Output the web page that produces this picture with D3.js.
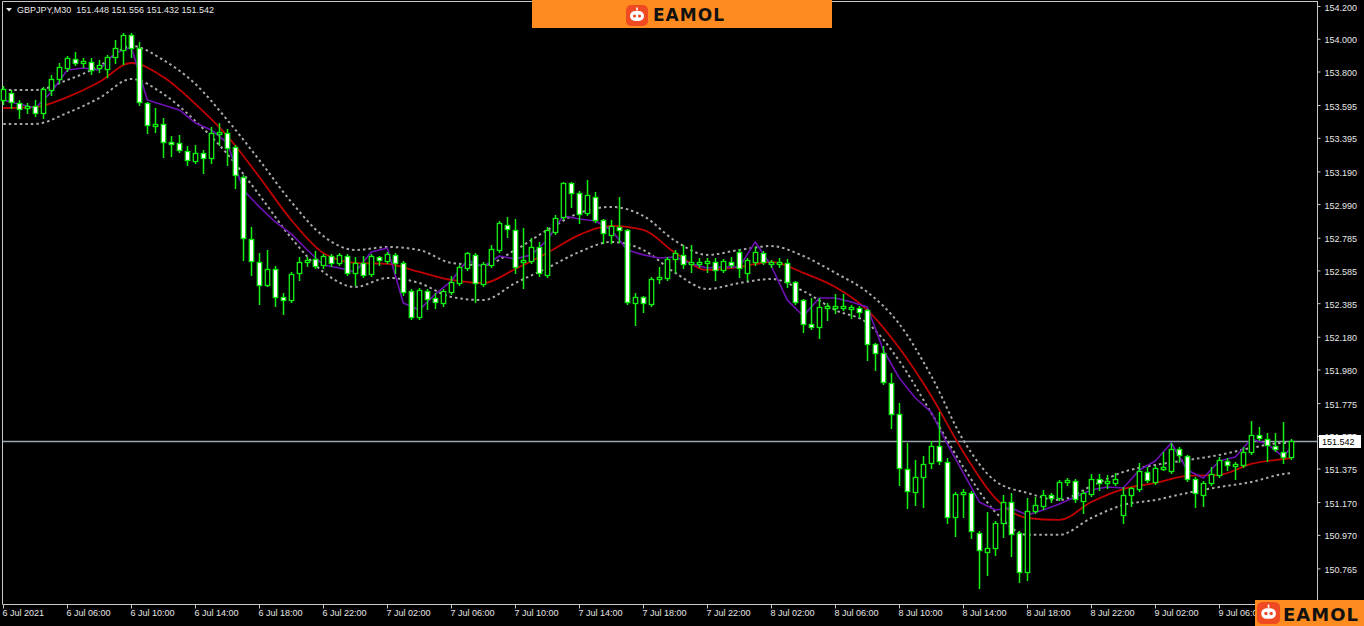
<!DOCTYPE html>
<html><head><meta charset="utf-8">
<script src="https://cdn.jsdelivr.net/npm/d3@7"></script>
<style>html,body{margin:0;padding:0;background:#000;overflow:hidden}svg{display:block}</style>
</head><body><svg id="chart" width="1364" height="626"></svg>
<script>
// ---------- data ----------
const symbol = "GBPJPY,M30";
const lastQuote = [151.448, 151.556, 151.432, 151.542];

// [open, high, low, close] for every 30-minute bar
const candleOHLC = [
[153.626,153.711,153.602,153.693],[153.669,153.687,153.577,153.614],[153.608,153.626,153.516,153.571],[153.577,153.608,153.547,153.589],
[153.589,153.626,153.528,153.547],[153.547,153.705,153.516,153.693],[153.687,153.778,153.656,153.754],[153.754,153.852,153.730,153.827],
[153.821,153.894,153.803,153.882],[153.876,153.919,153.839,153.852],[153.852,153.882,153.827,153.864],[153.858,153.882,153.785,153.809],
[153.821,153.870,153.797,153.839],[153.815,153.900,153.766,153.888],[153.888,153.992,153.852,153.943],[153.931,154.035,153.846,154.022],
[154.022,154.035,153.888,153.943],[153.943,153.980,153.596,153.614],[153.608,153.614,153.425,153.473],[153.467,153.577,153.431,153.480],
[153.480,153.516,153.278,153.370],[153.370,153.406,153.284,153.357],[153.364,153.412,153.308,153.321],[153.315,153.345,153.229,153.259],
[153.253,153.351,153.241,153.302],[153.302,153.321,153.180,153.272],[153.272,153.461,153.241,153.425],[153.419,153.486,153.351,153.431],
[153.425,153.449,153.229,153.333],[153.339,153.351,153.088,153.168],[153.156,153.168,152.649,152.783],[152.777,152.850,152.557,152.643],
[152.637,152.692,152.380,152.496],[152.496,152.710,152.490,152.594],[152.594,152.612,152.368,152.423],[152.423,152.447,152.319,152.404],
[152.404,152.576,152.392,152.563],[152.570,152.667,152.527,152.637],[152.637,152.667,152.612,152.649],[152.655,152.704,152.600,152.612],
[152.618,152.686,152.600,152.673],[152.673,152.686,152.612,152.631],[152.631,152.692,152.618,152.680],[152.673,152.686,152.557,152.570],
[152.570,152.667,152.496,152.631],[152.631,152.673,152.545,152.557],[152.563,152.686,152.551,152.673],[152.667,152.673,152.618,152.649],
[152.643,152.698,152.631,152.686],[152.680,152.692,152.570,152.631],[152.631,152.643,152.435,152.453],[152.459,152.471,152.288,152.300],
[152.300,152.478,152.288,152.466],[152.459,152.471,152.349,152.410],[152.417,152.447,152.355,152.392],[152.386,152.471,152.368,152.459],
[152.453,152.551,152.441,152.514],[152.508,152.618,152.496,152.606],[152.600,152.698,152.588,152.692],[152.680,152.692,152.392,152.508],
[152.502,152.637,152.490,152.625],[152.618,152.741,152.606,152.716],[152.710,152.887,152.698,152.875],[152.863,152.912,152.789,152.838],
[152.832,152.899,152.570,152.606],[152.637,152.844,152.478,152.649],[152.643,152.783,152.631,152.728],[152.728,152.759,152.551,152.570],
[152.557,152.850,152.545,152.832],[152.820,152.924,152.808,152.905],[152.912,153.125,152.899,153.119],[153.119,153.125,152.973,153.058],
[153.058,153.070,152.875,152.930],[152.936,153.137,152.924,153.046],[153.033,153.064,152.881,152.893],[152.893,152.899,152.753,152.814],
[152.802,152.893,152.753,152.857],[152.850,153.033,152.759,152.832],[152.832,152.838,152.380,152.392],[152.386,152.447,152.252,152.423],
[152.423,152.429,152.331,152.386],[152.380,152.545,152.368,152.533],[152.533,152.606,152.508,152.545],[152.539,152.667,152.527,152.655],
[152.655,152.710,152.576,152.692],[152.680,152.741,152.600,152.625],[152.625,152.741,152.576,152.637],[152.625,152.661,152.606,152.637],
[152.631,152.661,152.576,152.643],[152.637,152.661,152.527,152.588],[152.588,152.655,152.576,152.643],[152.637,152.667,152.606,152.618],
[152.698,152.716,152.545,152.600],[152.570,152.661,152.527,152.649],[152.637,152.728,152.618,152.698],[152.692,152.704,152.625,152.637],
[152.625,152.649,152.606,152.637],[152.625,152.661,152.606,152.637],[152.631,152.655,152.484,152.514],[152.514,152.520,152.380,152.392],
[152.404,152.410,152.209,152.258],[152.258,152.417,152.227,152.240],[152.240,152.417,152.172,152.362],[152.355,152.386,152.282,152.368],
[152.355,152.441,152.325,152.368],[152.355,152.441,152.343,152.368],[152.349,152.374,152.294,152.362],[152.355,152.368,152.300,152.331],
[152.343,152.349,152.038,152.136],[152.136,152.142,151.977,152.081],[152.081,152.124,151.891,151.903],[151.897,151.959,151.623,151.708],
[151.708,151.775,151.275,151.378],[151.372,151.531,151.134,151.238],[151.232,151.427,151.152,151.323],[151.323,151.452,151.140,151.403],
[151.409,151.543,151.378,151.513],[151.513,151.720,151.403,151.421],[151.415,151.439,151.043,151.079],[151.079,151.232,150.963,151.220],
[151.220,151.250,151.079,151.232],[151.226,151.238,150.951,150.994],[150.982,150.994,150.646,150.878],[150.865,151.110,150.725,150.890],
[150.890,151.055,150.847,151.043],[151.043,151.214,150.957,151.171],[151.171,151.226,150.841,150.976],[150.982,150.994,150.682,150.743],
[150.743,151.195,150.694,151.116],[151.116,151.201,151.104,151.153],[151.147,151.244,151.128,151.214],[151.214,151.226,151.171,151.195],
[151.195,151.305,151.183,151.293],[151.293,151.317,151.275,151.305],[151.299,151.311,151.171,151.189],[151.177,151.238,151.104,151.226],
[151.220,151.342,151.208,151.311],[151.311,151.342,151.244,151.287],[151.287,151.336,151.256,151.299],[151.287,151.348,151.275,151.311],
[151.091,151.262,151.043,151.214],[151.214,151.262,151.146,151.256],[151.250,151.409,151.238,151.360],[151.354,151.385,151.293,151.305],
[151.293,151.391,151.281,151.378],[151.372,151.476,151.366,151.385],[151.360,151.531,151.348,151.494],[151.494,151.507,151.415,151.458],
[151.452,151.458,151.299,151.311],[151.311,151.323,151.140,151.226],[151.214,151.299,151.146,151.287],[151.287,151.385,151.275,151.342],
[151.336,151.446,151.323,151.427],[151.421,151.439,151.366,151.397],[151.391,151.415,151.311,151.403],[151.397,151.507,151.385,151.476],
[151.476,151.665,151.464,151.580],[151.580,151.629,151.550,151.562],[151.555,151.592,151.421,151.519],[151.513,151.592,151.482,151.494],
[151.476,151.659,151.409,151.446],[151.448,151.556,151.432,151.542]
];

// slow moving average (red) and its envelope, read every 4 bars (plus last bar)
const slowIdx = [0,4,8,12,16,20,24,28,32,36,40,44,48,52,56,60,64,68,72,76,80,84,88,92,96,100,104,108,112,116,120,124,128,132,136,140,144,148,152,156,160,161];
const maRed = [153.577,153.583,153.644,153.736,153.852,153.766,153.602,153.406,153.156,152.893,152.692,152.631,152.625,152.576,152.527,152.508,152.594,152.692,152.802,152.857,152.832,152.692,152.588,152.606,152.637,152.570,152.484,152.343,152.111,151.818,151.476,151.195,151.073,151.061,151.171,151.250,151.287,151.330,151.336,151.403,151.433,151.439];
const envUpper = [153.687,153.687,153.748,153.833,153.956,153.870,153.724,153.504,153.259,153.003,152.795,152.710,152.728,152.710,152.631,152.618,152.710,152.832,152.936,152.973,152.918,152.765,152.680,152.710,152.734,152.673,152.570,152.453,152.258,151.940,151.549,151.299,151.226,151.183,151.268,151.354,151.397,151.427,151.458,151.501,151.531,151.531];
const envLower = [153.480,153.480,153.547,153.638,153.754,153.663,153.498,153.296,153.046,152.783,152.576,152.484,152.539,152.508,152.423,152.404,152.508,152.600,152.698,152.759,152.710,152.570,152.472,152.508,152.533,152.459,152.343,152.264,152.032,151.714,151.385,151.110,150.970,150.970,151.073,151.153,151.183,151.226,151.262,151.293,151.342,151.348];

// fast moving average (purple), read every 2 bars (plus last bar)
const fastIdx = [0,2,4,6,8,10,12,14,16,18,20,22,24,26,28,30,32,34,36,38,40,42,44,46,48,50,52,54,56,58,60,62,64,66,68,70,72,74,76,78,80,82,84,86,88,90,92,94,96,98,100,102,104,106,108,110,112,114,116,118,120,122,124,126,128,130,132,134,136,138,140,142,144,146,148,150,152,154,156,158,160,161];
const maPurple = [153.626,153.602,153.577,153.675,153.809,153.821,153.809,153.913,153.950,153.626,153.596,153.565,153.486,153.443,153.364,153.076,152.973,152.881,152.808,152.710,152.618,152.600,152.576,152.698,152.722,152.386,152.343,152.441,152.520,152.649,152.606,152.673,152.655,152.680,152.771,152.918,152.899,152.887,152.832,152.710,152.680,152.661,152.667,152.625,152.600,152.606,152.606,152.759,152.612,152.404,152.307,152.417,152.417,152.392,152.362,152.099,151.928,151.806,151.720,151.525,151.348,151.171,151.122,151.134,151.091,151.122,151.159,151.201,151.244,151.262,151.256,151.366,151.421,151.531,151.366,151.317,151.421,151.446,151.556,151.525,151.446,151.507];

const priceTicks = [154.200,154.000,153.800,153.595,153.395,153.190,152.990,152.785,152.585,152.385,152.180,151.980,151.775,151.575,151.375,151.170,150.970,150.765,150.560];
const timeLabels = ["6 Jul 2021","6 Jul 06:00","6 Jul 10:00","6 Jul 14:00","6 Jul 18:00","6 Jul 22:00","7 Jul 02:00","7 Jul 06:00","7 Jul 10:00","7 Jul 14:00","7 Jul 18:00","7 Jul 22:00","8 Jul 02:00","8 Jul 06:00","8 Jul 10:00","8 Jul 14:00","8 Jul 18:00","8 Jul 22:00","9 Jul 02:00","9 Jul 06:00"];
const barsPerLabel = 8;

// ---------- drawing ----------
const svg = d3.select("#chart");
const W = 1364, H = 626;
const plotRight = 1317.5, plotBottom = 604.5;
const green = "#12f012";
const font = "'Liberation Sans', Arial, sans-serif";

const x = d3.scaleLinear().domain([0, candleOHLC.length - 1]).range([3.3, 3.3 + 8 * (candleOHLC.length - 1)]);
const y = d3.scaleLinear().domain([150.56, 154.2]).range([602, 6]);

svg.append("rect").attr("width", W).attr("height", H).attr("fill", "#000");

// frame
svg.append("path")
  .attr("d", `M2.5,${plotBottom}V1.5H${plotRight}V${plotBottom}H2.5`)
  .attr("fill", "none").attr("stroke", "#c8c8c8").attr("stroke-width", 1);

// current price line
const yLast = Math.round(y(lastQuote[3])) + 0.5;
svg.append("line").attr("x1", 3).attr("x2", plotRight).attr("y1", yLast).attr("y2", yLast)
  .attr("stroke", "#98a4b0").attr("stroke-width", 1.3);

// indicator lines
const lineSmooth = d3.line().x(d => x(d[0])).y(d => y(d[1])).curve(d3.curveMonotoneX);
const lineFast = d3.line().x(d => x(d[0])).y(d => y(d[1])).curve(d3.curveLinear);
const zip = (idx, vals) => idx.map((v, k) => [v, vals[k]]);

svg.append("path").attr("d", lineSmooth(zip(slowIdx, envUpper)))
  .attr("fill", "none").attr("stroke", "#a9a9a9").attr("stroke-width", 2).attr("stroke-dasharray", "2.5,3");
svg.append("path").attr("d", lineSmooth(zip(slowIdx, envLower)))
  .attr("fill", "none").attr("stroke", "#a9a9a9").attr("stroke-width", 2).attr("stroke-dasharray", "2.5,3");
svg.append("path").attr("d", lineSmooth(zip(slowIdx, maRed)))
  .attr("fill", "none").attr("stroke", "#c00000").attr("stroke-width", 1.8);
svg.append("path").attr("d", lineFast(zip(fastIdx, maPurple)))
  .attr("fill", "none").attr("stroke", "#6e10b4").attr("stroke-width", 1.6).attr("stroke-linejoin", "round");

// candles
const cg = svg.append("g");
candleOHLC.forEach((d, i) => {
  const [o, h, l, c] = d;
  const cx = Math.round(x(i)) + 0.5;
  cg.append("line").attr("x1", cx).attr("x2", cx)
    .attr("y1", Math.round(y(h))).attr("y2", Math.round(y(l)) + 1)
    .attr("stroke", green).attr("stroke-width", 1.5);
  const top = Math.round(y(Math.max(o, c)));
  const bot = Math.round(y(Math.min(o, c)));
  const bull = c >= o;
  if (bot - top < 1) {
    cg.append("line").attr("x1", cx - 2.5).attr("x2", cx + 2.5).attr("y1", top + 0.5).attr("y2", top + 0.5)
      .attr("stroke", green).attr("stroke-width", 1.5);
  } else {
    cg.append("rect").attr("x", cx - 2.2).attr("y", top + 0.5).attr("width", 4.4).attr("height", bot - top)
      .attr("fill", bull ? "#000" : "#fff").attr("stroke", green).attr("stroke-width", 1.3);
  }
});

// right price axis
svg.append("line").attr("x1", plotRight).attr("x2", plotRight).attr("y1", 1).attr("y2", plotBottom)
  .attr("stroke", "#c8c8c8");
const yAxis = d3.axisRight(y).tickValues(priceTicks).tickFormat(d3.format(".3f")).tickSize(3).tickPadding(4);
const ya = svg.append("g").attr("transform", `translate(${plotRight},0)`).call(yAxis);
ya.select(".domain").remove();
ya.selectAll("line").attr("stroke", "#c8c8c8");
ya.selectAll("text").attr("fill", "#e6e6e6").attr("font-family", font).attr("font-size", 9).attr("dy", "0.45em");

// last price label box
svg.append("rect").attr("x", 1319).attr("y", yLast - 6.5).attr("width", 42).attr("height", 13).attr("fill", "#fff");
svg.append("text").attr("x", 1322).attr("y", yLast + 3.5).attr("font-family", font).attr("font-size", 9)
  .attr("fill", "#000").text(lastQuote[3].toFixed(3));

// bottom time axis
const xg = svg.append("g");
timeLabels.forEach((t, k) => {
  const tx = Math.round(x(k * barsPerLabel)) + 0.5;
  xg.append("line").attr("x1", tx).attr("x2", tx).attr("y1", plotBottom).attr("y2", plotBottom + 4).attr("stroke", "#c8c8c8");
  xg.append("text").attr("x", tx - 1).attr("y", 616).attr("font-family", font).attr("font-size", 9)
    .attr("fill", "#e6e6e6").text(t);
});

// title
svg.append("path").attr("d", "M6,8H12L9,11.5Z").attr("fill", "#e6e6e6");
svg.append("text").attr("x", 17).attr("y", 13).attr("font-family", font).attr("font-size", 9)
  .attr("fill", "#e6e6e6").attr("xml:space", "preserve")
  .text(`${symbol}  ${lastQuote.map(v => v.toFixed(3)).join(" ")}`);

// watermark logos
function logo(bx, by, bw, bh, ix, iy, s, tx, ty, fs) {
  svg.append("rect").attr("x", bx).attr("y", by).attr("width", bw).attr("height", bh).attr("fill", "#fd8b1f");
  const g = svg.append("g").attr("transform", `translate(${ix},${iy}) scale(${s})`);
  g.append("rect").attr("width", 22).attr("height", 21).attr("rx", 5).attr("fill", "#ef4a22");
  g.append("rect").attr("x", 10.2).attr("y", 2.5).attr("width", 1.6).attr("height", 3).attr("fill", "#fff");
  g.append("rect").attr("x", 4).attr("y", 6).attr("width", 14).attr("height", 10).attr("rx", 5).attr("fill", "#fff");
  g.append("circle").attr("cx", 8.5).attr("cy", 11).attr("r", 1.6).attr("fill", "#ef4a22");
  g.append("circle").attr("cx", 13.5).attr("cy", 11).attr("r", 1.6).attr("fill", "#ef4a22");
  svg.append("text").attr("x", tx).attr("y", ty).attr("font-family", "'DejaVu Sans', sans-serif")
    .attr("font-size", fs).attr("font-weight", 600).attr("fill", "#111").attr("letter-spacing", 1).text("EAMOL");
}
logo(532, 0, 300, 28, 626, 5, 1, 653, 21, 17);
logo(1255, 600, 109, 26, 1257, 602, 1.05, 1283, 621, 18);
</script>
</body></html>
